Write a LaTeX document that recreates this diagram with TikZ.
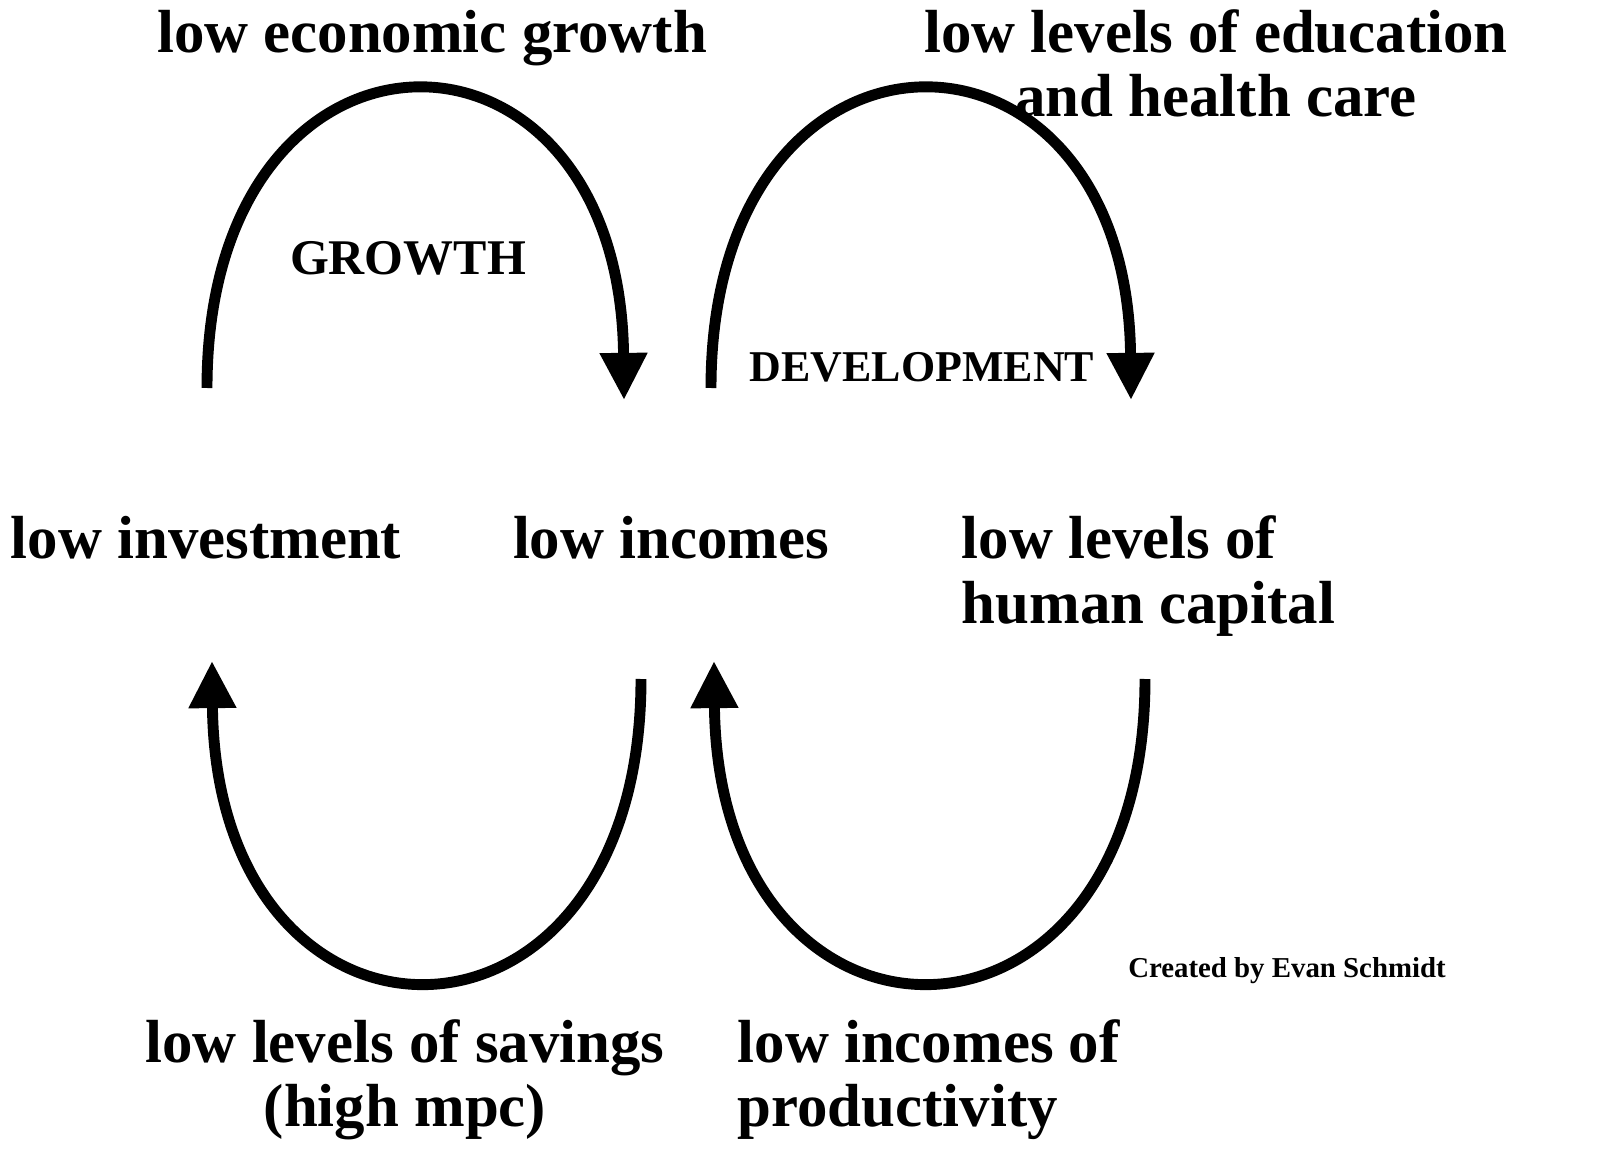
\documentclass[tikz,border=0pt]{standalone}
\usepackage{fontspec}
\setmainfont{Liberation Serif}
\usetikzlibrary{arrows.meta}

\begin{document}
\begin{tikzpicture}[x=0.01cm, y=-0.01cm,
    phrase/.style={font=\bfseries\fontsize{17.3}{18.2}\selectfont, inner sep=0pt, anchor=base},
    cycle/.style={line width=3.1pt, -{Triangle[width=12.8pt, length=13.4pt]}}]
\useasboundingbox (0,0) rectangle (1600,1149);
% the texts
\node[phrase] (growth) at (432,53) {low economic growth};
\node[phrase, align=center] (educ) at (1216,117) {low levels of education\\and health care};
\node[phrase, font=\bfseries\fontsize{14.2}{15}\selectfont] (grw) at (408,275) {GROWTH};
\node[phrase, font=\bfseries\fontsize{12.5}{14}\selectfont] (dev) at (922,382) {DEVELOPMENT};
\node[phrase] (invest) at (206,558) {low investment};
\node[phrase] (incomes) at (671,558) {low incomes};
\node[phrase, anchor=base west, align=left] (human) at (961,623) {low levels of\\human capital};
\node[phrase, font=\bfseries\fontsize{8.2}{9}\selectfont] (credit) at (1287,977) {Created by Evan Schmidt};
\node[phrase, align=center] (savings) at (405,1126) {low levels of savings\\(high mpc)};
\node[phrase, anchor=base west, align=left] (prod) at (737,1126) {low incomes of\\productivity};
% ends of the loops
\coordinate (g0) at (207,388);
\coordinate (g1) at (624,400);
\coordinate (d0) at (711,388);
\coordinate (d1) at (1131,400);
\coordinate (s0) at (641,679);
\coordinate (s1) at (212,661);
\coordinate (p0) at (1145,679);
\coordinate (p1) at (714,661);
\draw[cycle] (g0) .. controls (207,-8) and (620,-8) .. (g1);
\draw[cycle] (d0) .. controls (711,-8) and (1127,-8) .. (d1);
\draw[cycle] (s0) .. controls (641,1082) and (216,1082) .. (s1);
\draw[cycle] (p0) .. controls (1145,1082) and (718,1082) .. (p1);
\end{tikzpicture}
\end{document}
